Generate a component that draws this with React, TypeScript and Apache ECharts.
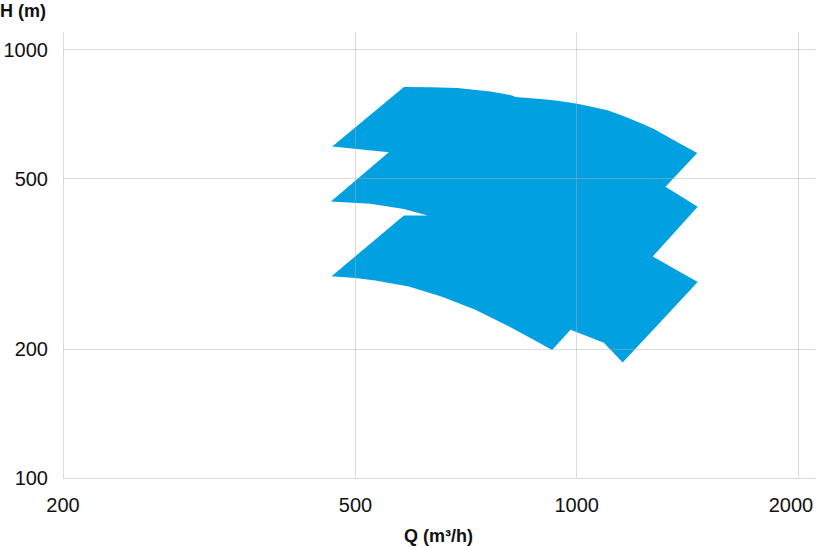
import React, { useEffect, useRef } from 'react';
import * as echarts from 'echarts';

// Outline of the pump performance range (clockwise), Q in m³/h, H in m
const qValues = [
  582, 633, 688, 763, 817, 826, 893, 942, 1002, 1044, 1101, 1160, 1221, 1274, 1328, 1385, 1459,
  1321, 1461, 1269, 1461, 1155, 1089, 981,
  926, 870, 808, 728, 656, 591, 532, 500, 464,
  582, 627, 582, 524, 463, 555, 465,
];
const hValues = [
  818, 817, 814, 799, 782, 776, 767, 760, 748, 737, 722, 699, 674, 653, 627, 602, 574,
  479, 430, 329, 287, 186, 207, 222,
  199, 211, 226, 247, 265, 280, 289, 293, 296,
  410, 410, 425, 437, 442, 576, 594,
];

const xTicks = [200, 500, 1000, 2000];
const yTicks = [100, 200, 500, 1000];
const xTitle = 'Q (m³/h)';
const yTitle = 'H (m)';

export default function App() {
  const ref = useRef<HTMLDivElement>(null);

  useEffect(() => {
    const chart = echarts.init(ref.current as HTMLDivElement, null, { renderer: 'svg' });
    const points = qValues.map((q, i) => [q, hValues[i]]);
    const gridColor = 'rgba(175,175,175,0.45)';
    const fontFamily = '"Liberation Sans", Arial, Helvetica, sans-serif';
    const labelStyle = { color: '#111', fontSize: 20, fontFamily };

    chart.setOption({
      animation: false,
      grid: { left: 63, right: 5, top: 32, bottom: 69, containLabel: false, outerBoundsMode: 'none' },
      xAxis: {
        type: 'log',
        min: 200,
        max: 2110,
        z: 3,
        axisLine: { show: false, onZero: false },
        axisTick: { show: false, customValues: xTicks },
        minorTick: { show: false },
        minorSplitLine: { show: false },
        splitLine: { show: true, lineStyle: { color: gridColor, width: 1 } },
        axisLabel: {
          ...labelStyle,
          customValues: xTicks,
          margin: 17,
          formatter: (v: number) => {
            const r = Math.round(v);
            return r === 2000 ? '{s|2000}' : String(r);
          },
          rich: { s: { ...labelStyle, padding: [0, 14, 0, 0] } },
        },
      },
      yAxis: {
        type: 'log',
        min: 100,
        max: 1100,
        z: 3,
        axisLine: { show: false, onZero: false },
        axisTick: { show: false, customValues: yTicks },
        minorTick: { show: false },
        minorSplitLine: { show: false },
        splitLine: { show: true, lineStyle: { color: gridColor, width: 1 } },
        axisLabel: {
          ...labelStyle,
          customValues: yTicks,
          margin: 15,
          formatter: (v: number) => String(Math.round(v)),
        },
      },
      graphic: [
        {
          type: 'text',
          left: 0,
          top: 2,
          style: { text: yTitle, font: `bold 18px ${fontFamily}`, fill: '#111' },
        },
        {
          type: 'text',
          left: 404,
          top: 527,
          style: { text: xTitle, font: `bold 18px ${fontFamily}`, fill: '#111' },
        },
      ],
      series: [
        {
          type: 'custom',
          coordinateSystem: 'cartesian2d',
          data: points,
          encode: { x: 0, y: 1 },
          z: 2,
          silent: true,
          renderItem: (params: any, api: any) => {
            if (params.dataIndex !== 0) return null;
            const pts = points.map((p) => api.coord(p));
            return {
              type: 'polygon',
              shape: { points: pts },
              style: { fill: '#00A0E1', stroke: null },
            };
          },
        },
      ],
    });

    return () => chart.dispose();
  }, []);

  return (
    <div
      ref={ref}
      style={{ position: 'absolute', left: 0, top: 0, width: 820, height: 547 }}
    />
  );
}
